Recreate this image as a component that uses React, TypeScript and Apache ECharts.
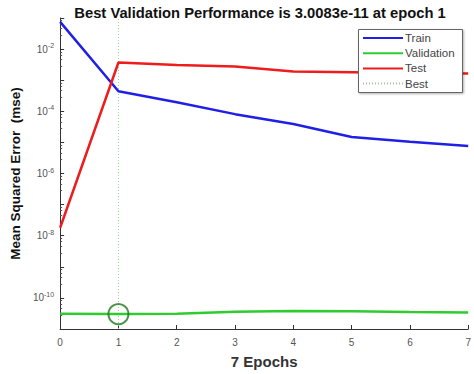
import React, { useEffect, useRef } from "react";
import * as echarts from "echarts";

const epochs = [0, 1, 2, 3, 4, 5, 6, 7];
const trainValues = [7.5e-2, 4.4e-4, 1.95e-4, 8.1e-5, 3.9e-5, 1.5e-5, 1.05e-5, 7.7e-6];
const validationValues = [3.1e-11, 3.0083e-11, 3.1e-11, 3.6e-11, 3.8e-11, 3.7e-11, 3.5e-11, 3.4e-11];
const testValues = [1.8e-8, 3.7e-3, 3.1e-3, 2.75e-3, 1.9e-3, 1.8e-3, 1.7e-3, 1.65e-3];
const bestEpoch = 1;
const bestValue = 3.0083e-11;
const yMin = 1e-11;
const yMax = 1e-1;
const titleText = "Best Validation Performance is 3.0083e-11 at epoch 1";

export default function App() {
  const ref = useRef<HTMLDivElement>(null);
  useEffect(() => {
    if (!ref.current) return;
    const chart = echarts.init(ref.current, undefined, { renderer: "svg" });
    const font = "Liberation Sans, Arial, sans-serif";
    chart.setOption({
      animation: false,
      backgroundColor: "#ffffff",
      textStyle: { fontFamily: font },
      title: {
        text: titleText,
        left: 255,
        textAlign: "center",
        top: 0,
        textStyle: { fontSize: 14.75, fontWeight: "bold", color: "#111", fontFamily: font },
      },
      graphic: [
        {
          type: "rect",
          left: 358,
          top: 29,
          shape: { width: 104, height: 63 },
          style: {
            fill: "#fff",
            stroke: "#666",
            lineWidth: 1,
            shadowColor: "rgba(0,0,0,0.3)",
            shadowBlur: 2,
            shadowOffsetX: 1,
            shadowOffsetY: 1,
          },
          z: 50,
        },
      ],
      legend: {
        data: ["Train", "Validation", "Test", "Best"],
        orient: "vertical",
        left: 358,
        top: 29,
        itemWidth: 40,
        itemHeight: 12,
        itemGap: 3.2,
        padding: [3, 8, 3, 4],
        borderWidth: 0,
        z: 60,
        itemStyle: { opacity: 0 },
        textStyle: { fontSize: 11.5, color: "#444", padding: [0, 0, 0, -3] },
      },
      grid: { left: 54, right: 2, top: 18, bottom: 42 },
      xAxis: {
        type: "value",
        min: 0,
        max: 7,
        interval: 1,
        name: "7 Epochs",
        nameLocation: "middle",
        nameGap: 25,
        nameTextStyle: { fontSize: 15, color: "#333", fontWeight: "bold" },
        axisLine: { lineStyle: { color: "#333", width: 1 } },
        axisTick: { inside: true, length: 4, lineStyle: { color: "#333" } },
        axisLabel: { fontSize: 10, color: "#555", margin: 8 },
        splitLine: { show: false },
      },
      yAxis: {
        type: "log",
        logBase: 10,
        min: yMin,
        max: yMax,
        interval: 1,
        name: "Mean Squared Error  (mse)",
        nameLocation: "middle",
        nameGap: 38,
        nameTextStyle: { fontSize: 13.5, fontWeight: "bold", color: "#111" },
        axisLine: { show: true, lineStyle: { color: "#333", width: 1 } },
        axisTick: { inside: true, length: 4, lineStyle: { color: "#333" } },
        minorTick: { show: true, splitNumber: 5, length: 2, lineStyle: { color: "#555" } },
        axisLabel: {
          margin: 6,
          showMinLabel: false,
          showMaxLabel: false,
          formatter: (v: number) => {
            const e = Math.round(Math.log10(v));
            if (e % 2 !== 0) return "";
            return "{b|10}{s|" + e + "}";
          },
          rich: {
            b: { fontSize: 10, color: "#555", fontFamily: font },
            s: { fontSize: 7, color: "#555", fontFamily: font, padding: [0, 0, 7, 0] },
          },
        },
        splitLine: { show: false },
      },
      series: [
        {
          name: "Train",
          type: "line",
          data: epochs.map((e, i) => [e, trainValues[i]]),
          symbol: "none",
          lineStyle: { color: "#1f1fe6", width: 2.5 },
          itemStyle: { color: "#1f1fe6" },
          z: 3,
        },
        {
          name: "Validation",
          type: "line",
          data: epochs.map((e, i) => [e, validationValues[i]]),
          symbol: "none",
          lineStyle: { color: "#2ecc2e", width: 2.5 },
          itemStyle: { color: "#2ecc2e" },
          z: 3,
        },
        {
          name: "Test",
          type: "line",
          data: epochs.map((e, i) => [e, testValues[i]]),
          symbol: "none",
          lineStyle: { color: "#ee1c1c", width: 2.5 },
          itemStyle: { color: "#ee1c1c" },
          z: 3,
        },
        {
          name: "Best",
          type: "line",
          data: [
            [bestEpoch, yMin],
            [bestEpoch, yMax],
          ],
          symbol: "none",
          lineStyle: { color: "#9ad09a", width: 1, type: [1, 2] },
          itemStyle: { color: "#9ad09a" },
          z: 2,
        },
        {
          name: "BestPoint",
          type: "scatter",
          data: [[bestEpoch, bestValue]],
          symbol: "circle",
          symbolSize: 20,
          itemStyle: { color: "rgba(0,0,0,0)", borderColor: "#1e7a1e", borderWidth: 2 },
          z: 4,
        },
      ],
    });
    return () => chart.dispose();
  }, []);
  return (
    <div
      ref={ref}
      style={{ position: "fixed", left: 0, top: 0, width: 474, height: 374 }}
    />
  );
}
